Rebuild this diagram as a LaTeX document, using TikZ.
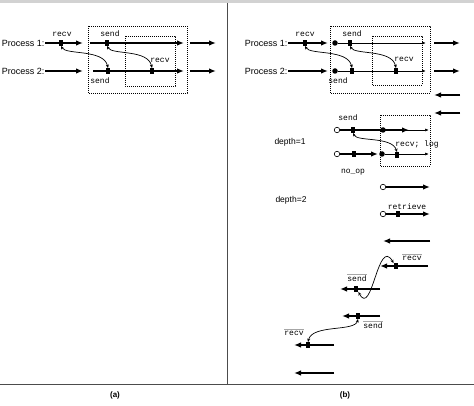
\documentclass[tikz,border=0pt]{standalone}
\usepackage{fontspec}
\setmainfont{Liberation Sans}
\setmonofont{Liberation Mono}
\usetikzlibrary{arrows.meta}
\newcommand\ovl[1]{\ensuremath{{\color{gray!70}\overline{\color{black}\mbox{\texttt{#1}}}}}}
\begin{document}
\begin{tikzpicture}[x=1pt,y=-1pt,
  thickar/.style={line width=1.6pt,-{Latex[length=7pt,width=5.5pt]}},
  thinar/.style={line width=0.7pt,-{Latex[length=4pt,width=3pt]}},
  msg/.style={line width=0.7pt,{Stealth[length=3.5pt,width=3pt]}-{Stealth[length=3.5pt,width=3pt]}},
  dbox/.style={line width=0.6pt,dash pattern=on 0.6pt off 1.4pt},
  sq/.style={rectangle,fill=black,minimum width=4.5pt,minimum height=5.5pt,inner sep=0pt},
  fdot/.style={circle,fill=black,minimum size=5.5pt,inner sep=0pt},
  odot/.style={circle,draw,fill=white,line width=0.6pt,minimum size=5.5pt,inner sep=0pt},
  lbl/.style={font=\fontsize{8}{9}\selectfont\ttfamily,inner sep=0pt},
  proc/.style={font=\fontsize{9}{10}\selectfont,inner sep=0.5pt},
  dep/.style={font=\fontsize{8.5}{10}\selectfont,inner sep=0pt},
  captxt/.style={font=\fontsize{8}{9}\selectfont\bfseries,inner sep=0pt},
  frm/.style={gray!60!black,line width=0.8pt}]
\useasboundingbox (0,0) rectangle (474,406);
\fill[white] (0,0) rectangle (474,406);
\fill[gray!35] (0,0) rectangle (474,3);
\draw[frm] (227,3) -- (227,384);
\draw[frm] (0,384) -- (474,384);
\node[captxt] (capa) at (115,395) {(a)};
\node[captxt] (capb) at (345,395) {(b)};

% ---------------- panel (a)
\node[proc,anchor=east] (pa1) at (45,43) {Process 1:};
\node[proc,anchor=east] (pa2) at (45,71) {Process 2:};
\coordinate (pa1e) at (83,43);
\coordinate (pa2e) at (83,71);
\coordinate (a1s) at (90,43);
\coordinate (a1e) at (184,43);
\coordinate (a2s) at (93,71);
\coordinate (a2e) at (184,71);
\coordinate (ao1s) at (190,43);
\coordinate (ao1e) at (216,43);
\coordinate (ao2s) at (190,71);
\coordinate (ao2e) at (216,71);
\draw[dbox] (88,26) rectangle (187,93);
\draw[dbox] (125,36) rectangle (175,86);
\draw[thickar] (pa1.east) -- (pa1e);
\draw[thickar] (pa2.east) -- (pa2e);
\draw[thickar] (a1s) -- (a1e);
\draw[thickar] (a2s) -- (a2e);
\draw[thickar] (ao1s) -- (ao1e);
\draw[thickar] (ao2s) -- (ao2e);
\node[sq] (ra1) at (61,43) {};
\node[sq] (sa1) at (107,43) {};
\node[sq] (sa2) at (108,71) {};
\node[sq] (ra2) at (152,71) {};
\node[lbl] (lra1) at (62,34) {recv};
\node[lbl] (lsa1) at (110,34) {send};
\node[lbl] (lsa2) at (100,81) {send};
\node[lbl] (lra2) at (160,60) {recv};
\draw[msg] (ra1.south) .. controls (66,55) and (104,49) .. (sa2.north);
\draw[msg] (sa1.south) .. controls (112,55) and (148,49) .. (ra2.north);

% ---------------- panel (b)
\node[proc,anchor=east] (pb1) at (288,43) {Process 1:};
\node[proc,anchor=east] (pb2) at (288,71) {Process 2:};
\coordinate (pb1e) at (328,43);
\coordinate (pb2e) at (328,71);
\draw[dbox] (330,26) rectangle (430,93);
\draw[dbox] (372,36) rectangle (422,85);
\node[fdot] (fb1) at (335,43) {};
\node[fdot] (fb2) at (335,71) {};
\coordinate (b1e) at (426,43);
\coordinate (b2e) at (426,71);
\coordinate (bo1s) at (434,43);
\coordinate (bo1e) at (460,43);
\coordinate (bo2s) at (434,71);
\coordinate (bo2e) at (460,71);
\coordinate (bl1s) at (460,95);
\coordinate (bl1e) at (434,95);
\coordinate (bl2s) at (460,113);
\coordinate (bl2e) at (434,113);
\draw[thickar] (pb1.east) -- (pb1e);
\draw[thickar] (pb2.east) -- (pb2e);
\draw[thinar] (fb1) -- (b1e);
\draw[thinar] (fb2) -- (b2e);
\draw[thickar] (bo1s) -- (bo1e);
\draw[thickar] (bo2s) -- (bo2e);
\draw[thickar] (bl1s) -- (bl1e);
\draw[thickar] (bl2s) -- (bl2e);
\node[sq] (rb1) at (305,43) {};
\node[sq] (sb1) at (350,43) {};
\node[sq] (sb2) at (352,71) {};
\node[sq] (rb2) at (396,71) {};
\node[lbl] (lrb1) at (305,34) {recv};
\node[lbl] (lsb1) at (352,34) {send};
\node[lbl] (lsb2) at (338,81) {send};
\node[lbl] (lrb2) at (404,59) {recv};
\draw[msg] (rb1.south) .. controls (310,55) and (348,49) .. (sb2.north);
\draw[msg] (sb1.south) .. controls (355,55) and (392,49) .. (rb2.north);

% depth = 1
\node[dep] (d1) at (290,142) {depth=1};
\node[dep] (d2) at (291,200) {depth=2};
\draw[dbox] (380,115) rectangle (430,166);
\node[odot] (o1) at (337,130) {};
\node[odot] (o2) at (337,154) {};
\node[fdot] (f1) at (383,130) {};
\node[fdot] (f2) at (382,154) {};
\coordinate (o1e) at (409,130);
\coordinate (o2e) at (378,154);
\coordinate (f1e) at (429,130);
\coordinate (f2e) at (429,154);
\draw[thickar] (o1.east) -- (o1e);
\draw[thickar] (o2.east) -- (o2e);
\draw[thinar] (f1) -- (f1e);
\draw[thinar] (f2) -- (f2e);
\node[sq] (s1) at (353,130) {};
\node[sq] (n1) at (354,154) {};
\node[sq] (r1) at (397,155) {};
\node[lbl] (ls1) at (348,118) {send};
\node[lbl] (lr1) at (417,144) {recv; log};
\node[lbl] (ln1) at (353,172) {no\_op};
\draw[msg] (s1.south) .. controls (357,142) and (392,136) .. (r1.north);

% depth = 2
\node[odot] (o3) at (383,187) {};
\coordinate (o3e) at (430,187);
\draw[thickar] (o3.east) -- (o3e);
\node[odot] (o4) at (383,214) {};
\coordinate (o4e) at (430,214);
\draw[thickar] (o4.east) -- (o4e);
\node[sq] (t1) at (398,214) {};
\node[lbl] (lt1) at (407,207) {retrieve};

% backward
\coordinate (k1s) at (430,241);
\coordinate (k1e) at (383,241);
\draw[thickar] (k1s) -- (k1e);
\coordinate (k2s) at (428,266);
\coordinate (k2e) at (380,266);
\draw[thickar] (k2s) -- (k2e);
\coordinate (k3s) at (380,289);
\coordinate (k3e) at (340,289);
\draw[thickar] (k3s) -- (k3e);
\coordinate (k4s) at (380,316);
\coordinate (k4e) at (342,316);
\draw[thickar] (k4s) -- (k4e);
\coordinate (k5s) at (334,345);
\coordinate (k5e) at (294,345);
\draw[thickar] (k5s) -- (k5e);
\coordinate (k6s) at (334,373);
\coordinate (k6e) at (294,373);
\draw[thickar] (k6s) -- (k6e);
\node[sq] (q1) at (396,266) {};
\node[sq] (q2) at (356,289) {};
\node[sq] (q3) at (358,316) {};
\node[sq] (q4) at (308,345) {};
\node[lbl] (lq1) at (412,257) {\ovl{recv}};
\node[lbl] (lq2) at (357,278) {\ovl{send}};
\node[lbl] (lq3) at (373,325) {\ovl{send}};
\node[lbl] (lq4) at (294,332) {\ovl{recv}};
\draw[msg] (q1.north west) .. controls (378,236) and (372,318) .. (q2.south east);
\draw[msg] (q3.south) .. controls (355,332) and (312,324) .. (q4.north);
\end{tikzpicture}
\end{document}
